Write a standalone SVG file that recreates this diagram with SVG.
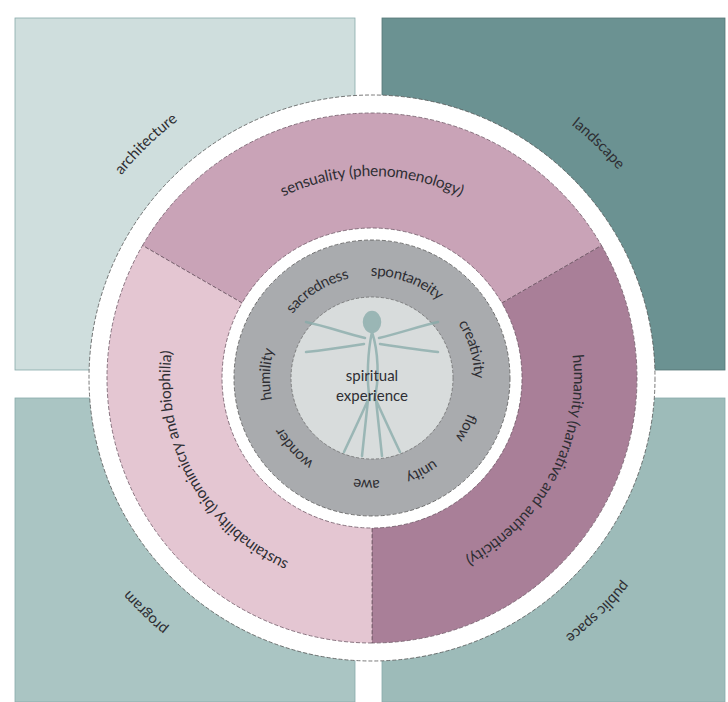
<svg xmlns="http://www.w3.org/2000/svg" xmlns:xlink="http://www.w3.org/1999/xlink" width="728" height="702" viewBox="0 0 728 702">
<style>
text{font-family:Lato,"Open Sans","Liberation Sans",sans-serif;fill:#2e2e33}
.q{font-size:15px}
.p{font-size:15.5px}
.g{font-size:15px}
.seg{stroke:#6e5866;stroke-width:0.8;stroke-dasharray:4 2}
</style>
<defs>
<path id="aq" d="M -320.8 -28.1 A 322 322 0 0 1 320.8 -28.1"/>
<path id="ap" d="M -207.2 -18.1 A 208 208 0 0 1 207.2 -18.1"/>
<path id="ag" d="M -107.6 -9.4 A 108 108 0 0 1 107.6 -9.4"/>
</defs>
<rect width="728" height="702" fill="#fff"/>
<g id="quad-architecture"><rect x="15" y="18" width="340" height="352" fill="#cfdedd" stroke="#8aa" stroke-width="0.8"/>
<text class="q" transform="translate(372,378) rotate(-44)"><textPath href="#aq" startOffset="50%" text-anchor="middle">architecture</textPath></text></g>
<g id="quad-landscape"><rect x="382" y="18" width="343" height="352" fill="#6b9292" stroke="#577" stroke-width="0.8"/>
<text class="q" transform="translate(372,378) rotate(44)"><textPath href="#aq" startOffset="50%" text-anchor="middle">landscape</textPath></text></g>
<g id="quad-program"><rect x="15" y="398" width="340" height="304" fill="#aac5c3" stroke="#8aa" stroke-width="0.8"/>
<text class="q" transform="translate(372,378) rotate(224)"><textPath href="#aq" startOffset="50%" text-anchor="middle">program</textPath></text></g>
<g id="quad-public-space"><rect x="382" y="398" width="343" height="304" fill="#9dbbb9" stroke="#8aa" stroke-width="0.8"/>
<text class="q" transform="translate(372,378) rotate(136)"><textPath href="#aq" startOffset="50%" text-anchor="middle">public space</textPath></text></g>

<circle cx="372" cy="378" r="283" fill="#fff" stroke="#555" stroke-width="0.8" stroke-dasharray="4 2"/>

<g id="seg-sensuality">
<path class="seg" fill="#c9a3b7" d="M 372 378 m -229.5 -132.5 A 265 265 0 0 1 601.5 245.5 L 501.9 303 A 150 150 0 0 0 242.1 303 Z"/>
<text class="p" dominant-baseline="central" transform="translate(372,378) rotate(0)"><textPath href="#ap" startOffset="50%" text-anchor="middle">sensuality (phenomenology)</textPath></text></g>
<g id="seg-humanity">
<path class="seg" fill="#a97f98" d="M 601.5 245.5 A 265 265 0 0 1 372 643 L 372 528 A 150 150 0 0 0 501.9 303 Z"/>
<text class="p" dominant-baseline="central" transform="translate(372,378) rotate(118)"><textPath href="#ap" startOffset="50%" text-anchor="middle">humanity (narrative and authenticity)</textPath></text></g>
<g id="seg-sustainability">
<path class="seg" fill="#e4c6d2" d="M 372 643 A 265 265 0 0 1 142.5 245.5 L 242.1 303 A 150 150 0 0 0 372 528 Z"/>
<text class="p" dominant-baseline="central" transform="translate(372,378) rotate(241)"><textPath href="#ap" startOffset="50%" text-anchor="middle">sustainability (biomimicry and biophilia)</textPath></text></g>

<g id="core">
<circle cx="372" cy="378" r="138" fill="#a9abae" stroke="#555" stroke-width="0.8" stroke-dasharray="4 2"/>
<circle cx="372" cy="378" r="81" fill="#d8dcdc" stroke="#666" stroke-width="0.7" stroke-dasharray="3 2"/>
<g stroke="#86aaa8" stroke-width="2.5" fill="none" stroke-linecap="round" opacity="0.75">
<ellipse cx="372" cy="322" rx="8" ry="10" fill="#86aaa8"/>
<path d="M372 332 C368 350 366 380 370 400 M372 332 C378 350 380 380 374 400"/>
<path d="M365 338 C345 333 325 326 306 322 M379 338 C400 333 420 326 438 322"/>
<path d="M364 344 C345 347 325 350 306 352 M380 344 C400 347 420 350 438 352"/>
<path d="M368 400 C360 418 352 435 344 452 M376 400 C384 418 392 435 400 452"/>
<path d="M368 400 C366 418 364 438 362 456 M376 400 C378 418 380 438 382 456"/>
</g>
<text x="372" y="381" text-anchor="middle" style="font-size:15px">spiritual</text>
<text x="372" y="401" text-anchor="middle" style="font-size:15px">experience</text>
<g dominant-baseline="central">
<text class="g" transform="translate(372,378) rotate(-32)"><textPath href="#ag" startOffset="50%" text-anchor="middle">sacredness</textPath></text>
<text class="g" transform="translate(372,378) rotate(20)"><textPath href="#ag" startOffset="50%" text-anchor="middle">spontaneity</textPath></text>
<text class="g" transform="translate(372,378) rotate(74)"><textPath href="#ag" startOffset="50%" text-anchor="middle">creativity</textPath></text>
<text class="g" transform="translate(372,378) rotate(118)"><textPath href="#ag" startOffset="50%" text-anchor="middle">flow</textPath></text>
<text class="g" transform="translate(372,378) rotate(152)"><textPath href="#ag" startOffset="50%" text-anchor="middle">unity</textPath></text>
<text class="g" transform="translate(372,378) rotate(183)"><textPath href="#ag" startOffset="50%" text-anchor="middle">awe</textPath></text>
<text class="g" transform="translate(372,378) rotate(228)"><textPath href="#ag" startOffset="50%" text-anchor="middle">wonder</textPath></text>
<text class="g" transform="translate(372,378) rotate(272)"><textPath href="#ag" startOffset="50%" text-anchor="middle">humility</textPath></text>
</g>
</g>
<g id="connectors"></g>
</svg>
